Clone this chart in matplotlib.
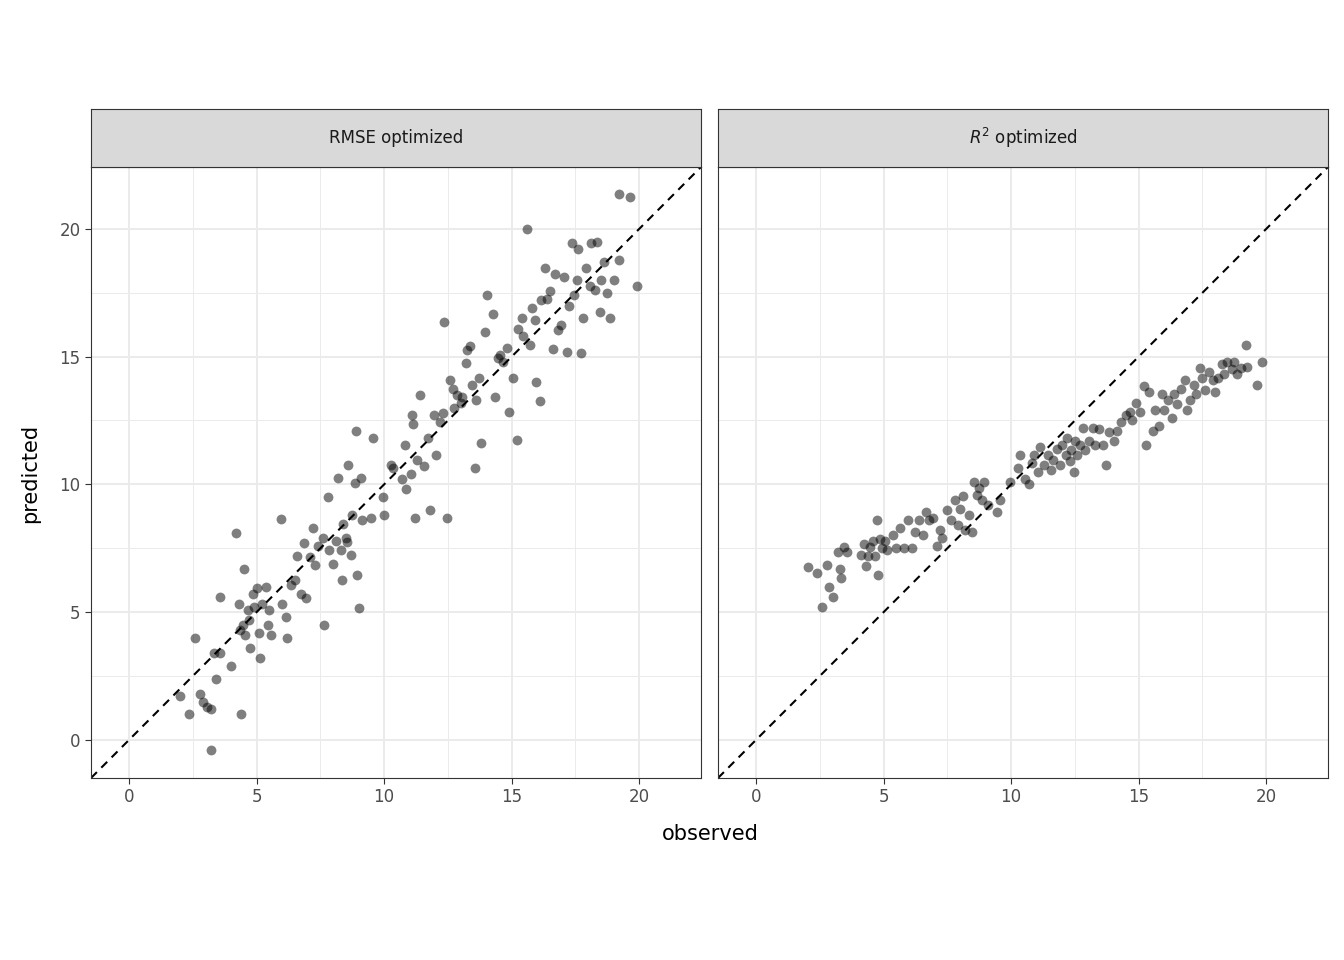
import matplotlib
matplotlib.use("Agg")
import matplotlib.pyplot as plt
import numpy as np

rmse_obs = [2.0,2.35,2.6,2.8,2.9,3.05,3.2,3.2,3.4,3.35,3.55,3.55,4.0,4.2,4.3,4.4,4.5,4.35,4.45,4.55,4.65,4.7,4.75,4.85,4.9,5.0,5.1,5.15,5.2,5.35,5.45,5.55,5.5,6.0,5.95,6.2,6.15,6.35,6.5,6.6,6.75,6.85,6.95,7.1,7.2,7.3,7.4,7.6,7.65,7.8,7.85,8.0,8.1,8.2,8.3,8.35,8.4,8.5,8.55,8.6,8.7,8.75,8.85,8.9,8.95,9.0,9.1,9.15,9.5,9.55,9.95,10.0,10.25,10.35,10.7,10.8,10.85,11.05,11.1,11.15,11.2,11.3,11.4,11.55,11.7,11.8,11.95,12.05,12.2,12.3,12.35,12.45,12.6,12.7,12.75,12.85,13.0,13.05,13.2,13.25,13.35,13.45,13.55,13.6,13.7,13.8,13.95,14.05,14.25,14.35,14.45,14.55,14.65,14.8,14.9,15.05,15.2,15.25,15.4,15.45,15.6,15.7,15.8,15.9,15.95,16.1,16.15,16.3,16.4,16.5,16.6,16.7,16.8,16.95,17.05,17.15,17.25,17.35,17.45,17.55,17.6,17.7,17.8,17.9,18.05,18.1,18.25,18.35,18.45,18.5,18.6,18.75,18.85,19.0,19.2,19.2,19.65,19.9]
rmse_pred = [1.7,1.0,4.0,1.8,1.5,1.3,1.2,-0.4,2.4,3.4,3.4,5.6,2.9,8.1,5.3,1.0,6.7,4.3,4.5,4.1,5.1,4.7,3.6,5.7,5.2,5.95,4.2,3.2,5.3,6.0,4.5,4.1,5.1,5.3,8.65,4.0,4.8,6.05,6.25,7.2,5.7,7.7,5.55,7.15,8.3,6.85,7.6,7.9,4.5,9.5,7.45,6.9,7.8,10.25,7.45,6.25,8.45,7.9,7.75,10.75,7.25,8.8,10.05,12.1,6.45,5.15,10.25,8.6,8.7,11.8,9.5,8.8,10.75,10.65,10.2,11.55,9.8,10.4,12.7,12.35,8.7,10.95,13.5,10.7,11.8,9.0,12.7,11.15,12.45,12.8,16.35,8.7,14.1,13.75,13.0,13.5,13.2,13.4,14.75,15.25,15.4,13.9,10.65,13.3,14.15,11.6,15.95,17.4,16.65,13.4,14.95,15.05,14.8,15.35,12.85,14.15,11.75,16.1,16.5,15.8,20.0,15.45,16.9,16.45,14.0,13.25,17.2,18.45,17.25,17.55,15.3,18.25,16.05,16.25,18.1,15.2,17.0,19.45,17.4,18.0,19.2,15.15,16.5,18.45,17.75,19.45,17.6,19.5,16.75,18.0,18.7,17.5,16.5,18.0,18.8,21.35,21.25,17.75]

r2_obs = [2.05,2.4,2.6,2.8,2.85,3.0,3.2,3.3,3.35,3.45,3.55,4.1,4.25,4.3,4.4,4.45,4.6,4.65,4.75,4.8,4.85,4.95,5.05,5.15,5.35,5.5,5.65,5.8,5.95,6.1,6.25,6.4,6.55,6.65,6.8,6.95,7.1,7.2,7.3,7.5,7.65,7.8,7.9,8.0,8.1,8.2,8.35,8.45,8.55,8.65,8.75,8.85,8.95,9.1,9.45,9.55,9.95,10.25,10.35,10.55,10.7,10.8,10.9,11.05,11.15,11.3,11.45,11.55,11.65,11.8,11.9,12.0,12.15,12.2,12.3,12.35,12.45,12.5,12.6,12.7,12.8,12.9,13.05,13.2,13.3,13.45,13.6,13.7,13.85,14.05,14.15,14.3,14.5,14.65,14.75,14.9,15.05,15.2,15.3,15.4,15.55,15.65,15.8,15.9,16.0,16.15,16.3,16.4,16.5,16.65,16.8,16.9,17.0,17.15,17.25,17.4,17.5,17.6,17.75,17.9,18.0,18.1,18.25,18.35,18.45,18.65,18.75,18.85,19.0,19.2,19.25,19.65,19.85]
r2_pred = [6.75,6.55,5.2,6.85,6.0,5.6,7.35,6.7,6.35,7.55,7.35,7.25,7.65,6.8,7.2,7.55,7.8,7.2,8.6,6.45,7.85,7.5,7.8,7.45,8.0,7.5,8.3,7.5,8.6,7.5,8.15,8.6,8.0,8.9,8.6,8.7,7.6,8.2,7.9,9.0,8.6,9.4,8.4,9.05,9.55,8.2,8.8,8.15,10.1,9.6,9.85,9.4,10.1,9.2,8.9,9.4,10.1,10.65,11.15,10.2,10.0,10.85,11.15,10.5,11.45,10.75,11.15,10.55,10.95,11.4,10.75,11.55,11.15,11.8,10.9,11.35,10.5,11.7,11.15,11.55,12.2,11.35,11.7,12.2,11.55,12.15,11.55,10.75,12.05,11.7,12.1,12.45,12.7,12.85,12.5,13.2,12.85,13.85,11.55,13.6,12.1,12.9,12.3,13.55,12.9,13.3,12.6,13.55,13.15,13.75,14.1,12.9,13.3,13.9,13.55,14.55,14.15,13.7,14.4,14.1,13.6,14.15,14.7,14.3,14.8,14.5,14.8,14.3,14.55,15.45,14.6,13.9,14.8]

titles = ["RMSE optimized", r"$R^2$ optimized"]
ticks = [0, 5, 10, 15, 20]

fig = plt.figure(figsize=(13.44, 9.6), dpi=100)
lo, hi = -1.49, 22.42
lefts = [91/1344, 718/1344]
w = 610/1344
b = 182/960
h = 611/960
data = [(rmse_obs, rmse_pred), (r2_obs, r2_pred)]
for i, (x, y) in enumerate(data):
    ax = fig.add_axes([lefts[i], b, w, h])
    ax.set_xlim(lo, hi); ax.set_ylim(lo, hi)
    ax.set_xticks(ticks); ax.set_yticks(ticks)
    ax.set_xticks([2.5, 7.5, 12.5, 17.5], minor=True)
    ax.set_yticks([2.5, 7.5, 12.5, 17.5], minor=True)
    ax.grid(True, which='major', color='#ebebeb', lw=1.4)
    ax.grid(True, which='minor', color='#ebebeb', lw=0.7)
    ax.set_axisbelow(True)
    ax.tick_params(which='minor', length=0)
    ax.tick_params(which='major', length=4, color='#333333', labelsize=12, labelcolor='#4d4d4d', width=0.8)
    if i == 1:
        ax.tick_params(axis='y', labelleft=False, length=0)
    for s in ax.spines.values():
        s.set_color('#333333'); s.set_linewidth(0.8)
    ax.plot([lo, hi], [lo, hi], ls=(0, (4, 3)), color='black', lw=1.5, zorder=1)
    ax.scatter(x, y, s=50, color='black', alpha=0.5, linewidths=0, zorder=2)
    sax = fig.add_axes([lefts[i], b + h, w, 58/960])
    sax.set_facecolor('#d9d9d9')
    sax.set_xticks([]); sax.set_yticks([])
    for s in sax.spines.values():
        s.set_color('#333333'); s.set_linewidth(0.8)
    sax.text(0.5, 0.5, titles[i], ha='center', va='center', fontsize=12, color='#1a1a1a', transform=sax.transAxes)

fig.text(710/1344, 1 - 834/960, 'observed', ha='center', va='center', fontsize=15)
fig.text(30/1344, 1 - 473/960, 'predicted', ha='center', va='center', fontsize=15, rotation=90)
fig.savefig('out.png', dpi=100)
